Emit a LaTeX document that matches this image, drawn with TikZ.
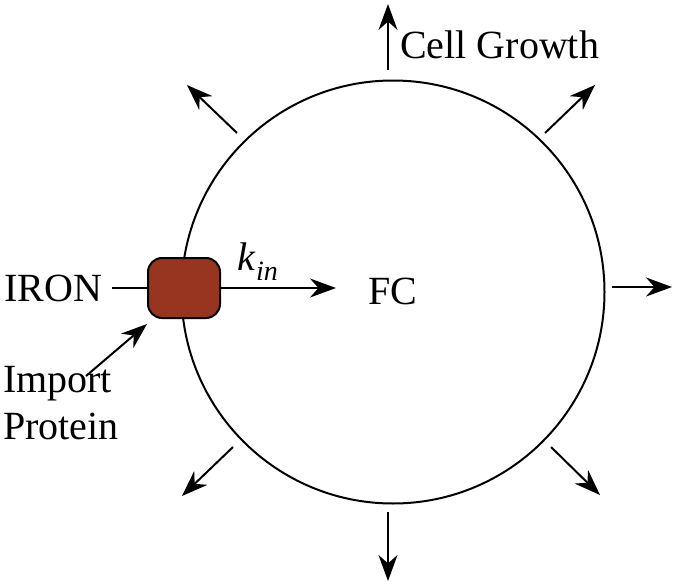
\documentclass[tikz,border=0pt]{standalone}
\usepackage{fontspec}
\setmainfont{Liberation Serif}
\usetikzlibrary{arrows.meta}
\definecolor{prot}{HTML}{983520}
\begin{document}
\begin{tikzpicture}[x=1pt,y=-1pt,
  arr/.style={-{Stealth[length=26pt,width=19pt]},line width=2pt},
  lbl/.style={font=\fontsize{40}{45}\selectfont,inner sep=0pt}]
\useasboundingbox (0,0) rectangle (685,586);
\node[circle,draw,line width=2pt,minimum size=423pt,inner sep=0pt] (cell) at (393,292) {};
\node[lbl] (fc) at (393,291) {FC};
\coordinate (t0) at (388,70); \coordinate (t1) at (388,4);
\draw[arr] (t0) -- (t1);
\node[lbl,anchor=west] (cg) at (400,45) {Cell Growth};
\coordinate (a0) at (237,133); \coordinate (a1) at (187,85);
\draw[arr] (a0) -- (a1);
\coordinate (b0) at (545,133); \coordinate (b1) at (595,85);
\draw[arr] (b0) -- (b1);
\coordinate (c0) at (612,287); \coordinate (c1) at (672,287);
\draw[arr] (c0) -- (c1);
\coordinate (d0) at (551,447); \coordinate (d1) at (600,495);
\draw[arr] (d0) -- (d1);
\coordinate (e0) at (388,512); \coordinate (e1) at (388,581);
\draw[arr] (e0) -- (e1);
\coordinate (f0) at (233,447); \coordinate (f1) at (182,496);
\draw[arr] (f0) -- (f1);
\node[lbl,anchor=west] (iron) at (4,288) {IRON};
\node[draw,line width=2pt,fill=prot,rounded corners=14pt,minimum width=72pt,minimum height=60pt] (box) at (184,288) {};
\coordinate (ir) at (112,288);
\draw[line width=2pt] (ir) -- (box.west);
\coordinate (k1) at (336,288);
\draw[arr] (box.east) -- (k1);
\node[lbl] (kin) at (258,262) {\textit{k}\textsubscript{\textit{in}}};
\node[lbl,align=left,anchor=north west] (imp) at (3,366) {Import\\[2pt]Protein};
\coordinate (p0) at (86,376); \coordinate (p1) at (147,324);
\draw[arr] (p0) -- (p1);
\end{tikzpicture}
\end{document}
